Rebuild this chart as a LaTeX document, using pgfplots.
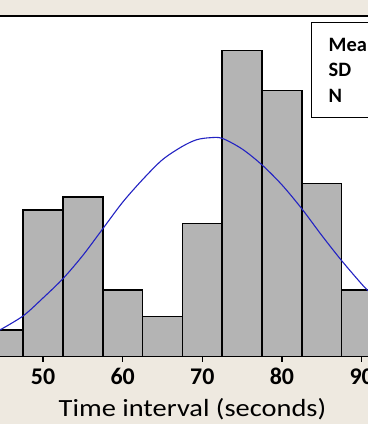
\documentclass[border=0pt]{standalone}
\usepackage{pgfplots}
\pgfplotsset{compat=1.18}
\usetikzlibrary{backgrounds}
\usepackage{fontspec}
\setmainfont{Carlito}
\newfontfamily\widefont[FakeStretch=1.15]{Carlito}
\definecolor{bg}{RGB}{238,233,224}
\definecolor{bargray}{RGB}{180,180,180}
\definecolor{curveblue}{RGB}{35,35,195}
\begin{document}
\begin{tikzpicture}[x=1bp,y=1bp]
\begin{axis}[
  scale only axis,
  width=368bp, height=340.5bp,
  xmin=44.6, xmax=90.8, ymin=0, ymax=25.6,
  axis background/.style={fill=white},
  separate axis lines,
  axis x line*=bottom, axis y line=none,
  x axis line style={line width=1.6bp, black},
  xtick={50,60,70,80,90}, ytick=\empty,
  tick align=outside, major tick length=5bp,
  tick style={black, line width=1.2bp},
  /pgf/number format/assume math mode=true,
  xticklabel style={font=\bfseries\fontsize{24}{24}\selectfont, anchor=base, yshift=-23bp},
  xlabel={Time interval (seconds)},
  xlabel style={font=\widefont\fontsize{24.8}{24.8}\selectfont, at={(axis description cs:0.523,0)}, anchor=base, yshift=-59.5bp},
  clip=false,
]
\addplot[ybar interval, fill=bargray, draw=black, line width=1.5bp] coordinates {
 (42.5,2) (47.5,11) (52.5,12) (57.5,5) (62.5,3) (67.5,10) (72.5,23) (77.5,20) (82.5,13) (87.5,5) (92.5,5)
};
\addplot[curveblue, line width=1.1bp, smooth, no marks] coordinates {
 (44.6,2.0) (47.5,3.05) (50,4.4) (52.5,5.85) (55,7.6) (57.5,9.6) (60,11.6) (62.5,13.3) (65,14.8)
 (67.5,15.8) (69.3,16.3) (71,16.45) (72.5,16.4) (75,15.6) (77.5,14.4) (80,12.9) (82.5,11.1)
 (85,9.1) (87.5,7.2) (90,5.45) (90.8,4.95)
};
\draw[black, line width=1.8bp] (rel axis cs:0,1) -- (rel axis cs:1,1);
\coordinate (O) at (rel axis cs:0,0);
\end{axis}
\pgfresetboundingbox
\begin{scope}[shift={(O)}]
\path[use as bounding box] (0,-67.5) rectangle (368,356.5);
\draw[line width=1.5bp, fill=white] (311.7,333.8) rectangle (400,238.8);
\node[anchor=base west, inner sep=0pt, font=\bfseries\fontsize{20.5}{20.5}\selectfont] at (328.5,304.8) {Mean};
\node[anchor=base west, inner sep=0pt, font=\bfseries\fontsize{20.5}{20.5}\selectfont] at (328.5,279.8) {SD};
\node[anchor=base west, inner sep=0pt, font=\bfseries\fontsize{20.5}{20.5}\selectfont] at (328.5,254.2) {N};
\end{scope}
\begin{scope}[on background layer, shift={(O)}]
\fill[bg] (0,-67.5) rectangle (368,356.5);
\end{scope}
\end{tikzpicture}
\end{document}
